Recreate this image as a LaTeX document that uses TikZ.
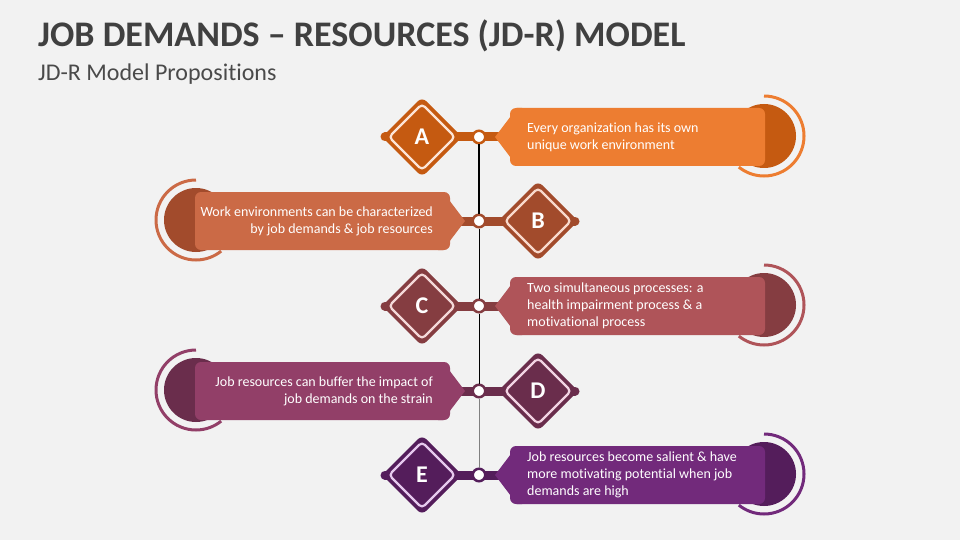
\documentclass[tikz,border=0pt]{standalone}
\usepackage{fontspec}
\setmainfont{Carlito}[Ligatures={NoCommon,NoRare,NoContextual}]
\definecolor{bg}{HTML}{F2F2F2}
\definecolor{titlegray}{HTML}{404040}
\definecolor{subgray}{HTML}{4A4A4A}
\definecolor{banA}{HTML}{ED7D31}\definecolor{darkA}{HTML}{C55A11}\definecolor{lightA}{HTML}{FCE4D6}
\definecolor{banB}{HTML}{CB6A46}\definecolor{darkB}{HTML}{A24B2C}\definecolor{lightB}{HTML}{F8D9CC}
\definecolor{banC}{HTML}{AF5459}\definecolor{darkC}{HTML}{853D41}\definecolor{lightC}{HTML}{F4D8D8}
\definecolor{banD}{HTML}{923F68}\definecolor{darkD}{HTML}{6A2D4C}\definecolor{lightD}{HTML}{F2D3E3}
\definecolor{banE}{HTML}{722A7B}\definecolor{darkE}{HTML}{541D5B}\definecolor{lightE}{HTML}{E6C9EE}
\tikzset{
  bantext/.style={text=white, font=\fontsize{14}{17}\selectfont, inner sep=0pt},
  letter/.style={text=white, font=\bfseries\fontsize{24}{26}\selectfont, inner sep=0pt},
  joint/.style={circle, fill=white, line width=2.5pt, minimum size=12.5pt, inner sep=0pt},
}
% #1 name, #2 y, #3 banner, #4 dark, #5 light, #6 letter, #7 text
\newcommand\rowright[7]{%
  \draw[#3, line width=3pt] (764,{#2-1}) ++(-90:40) arc[start angle=-90, end angle=129, radius=40];
  \fill[#4] (764,{#2-1}) circle[radius=32];
  \draw[#4, line width=9pt, line cap=round] (385,#2) -- (505,#2);
  \fill[#3, rounded corners=6pt] (510,{#2-29}) rectangle (765,{#2+29});
  \fill[#3] (495,#2) -- (517,{#2-29}) -- (522,{#2-29}) -- (522,{#2+29}) -- (517,{#2+29}) -- cycle;
  \fill[#4, rounded corners=6pt] (382,#2) -- (422,{#2-40}) -- (462,#2) -- (422,{#2+40}) -- cycle;
  \draw[#5, line width=2.2pt, rounded corners=4pt] (389,#2) -- (422,{#2-33}) -- (455,#2) -- (422,{#2+33}) -- cycle;
  \node[letter] (#1d) at (422,#2) {#6};
  \node[joint, draw=#4] (#1c) at (479,#2) {};
  \node[bantext, anchor=west, align=left] (#1t) at (527,#2) {#7};
}
\newcommand\rowleft[7]{%
  \draw[#3, line width=3pt] (196,{#2-1}) ++(-90:40) arc[start angle=-90, end angle=-309, radius=40];
  \fill[#4] (196,{#2-1}) circle[radius=32];
  \draw[#4, line width=9pt, line cap=round] (575,#2) -- (455,#2);
  \fill[#3, rounded corners=6pt] (195,{#2-29}) rectangle (450,{#2+29});
  \fill[#3] (465,#2) -- (443,{#2-29}) -- (438,{#2-29}) -- (438,{#2+29}) -- (443,{#2+29}) -- cycle;
  \fill[#4, rounded corners=6pt] (498,#2) -- (538,{#2-40}) -- (578,#2) -- (538,{#2+40}) -- cycle;
  \draw[#5, line width=2.2pt, rounded corners=4pt] (505,#2) -- (538,{#2-33}) -- (571,#2) -- (538,{#2+33}) -- cycle;
  \node[letter] (#1d) at (538,#2) {#6};
  \node[joint, draw=#4] (#1c) at (479,#2) {};
  \node[bantext, anchor=east, align=right] (#1t) at (433,#2) {#7};
}
\begin{document}
\begin{tikzpicture}[x=1pt,y=-1pt]
\useasboundingbox (0,0) rectangle (960,540);
\fill[bg] (0,0) rectangle (960,540);
\node[anchor=base west, inner sep=0pt, text=titlegray, font=\bfseries\fontsize{36}{40}\selectfont] (title) at (38,47) {JOB DEMANDS – RESOURCES (JD-R) MODEL};
\node[anchor=base west, inner sep=0pt, text=subgray, font=\fontsize{24}{26}\selectfont] (subtitle) at (38,81) {JD-R Model Propositions};

\rowright{A}{137}{banA}{darkA}{lightA}{A}{Every organization has its own\\unique work environment}
\rowleft{B}{221}{banB}{darkB}{lightB}{B}{Work environments can be characterized\\by job demands \& job resources}
\rowright{C}{306}{banC}{darkC}{lightC}{C}{Two simultaneous processes: a\\health impairment process \& a\\motivational process}
\rowleft{D}{391}{banD}{darkD}{lightD}{D}{Job resources can buffer the impact of\\job demands on the strain}
\rowright{E}{475}{banE}{darkE}{lightE}{E}{Job resources become salient \& have\\more motivating potential when job\\demands are high}

\draw[black, line width=1.6pt] (Ac) -- (Bc);
\draw[black, line width=0.8pt] (Bc) -- (Cc);
\draw[black, line width=0.8pt] (Cc) -- (Dc);
\draw[gray, line width=0.8pt] (Dc) -- (Ec);
\end{tikzpicture}
\end{document}
